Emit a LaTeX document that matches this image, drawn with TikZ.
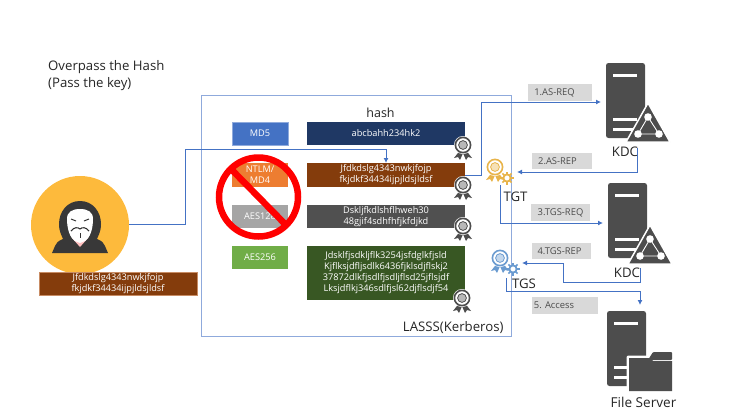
\documentclass[tikz,border=0pt]{standalone}
\usepackage{fontspec}
\setmainfont{Open Sans}
\usetikzlibrary{arrows.meta}
\definecolor{conn}{HTML}{4472C4}
\definecolor{frame}{HTML}{8FAADC}
\definecolor{srv}{HTML}{4D4D4D}
\definecolor{lbl}{HTML}{D9D9D9}
\definecolor{gold}{HTML}{E8B44A}
\definecolor{steel}{HTML}{6A9BD0}
\tikzset{
  x=1pt,y=-1pt,
  barbox/.style={anchor=north west,inner sep=0pt,outer sep=0pt,text=white,align=center,
     font=\fontsize{9.2}{11}\selectfont,line width=.5pt},
  tagbox/.style={anchor=north west,inner sep=0pt,outer sep=0pt,fill=lbl,text=black!70,
     font=\fontsize{9.4}{11}\selectfont},
  captxt/.style={inner sep=0pt,outer sep=0pt,text=black!85,font=\fontsize{13.2}{15}\selectfont},
  linkline/.style={draw=conn,line width=.95pt,-{Latex[length=5pt,width=5pt]}},
}
\newcommand{\ribbon}[3]{%
  \fill[#3] (#1-2,#2+4) -- (#1-9,#2+13) -- (#1-5,#2+12) -- (#1-3,#2+15) -- (#1+1,#2+6) -- cycle;
  \fill[#3] (#1+2,#2+4) -- (#1+9,#2+13) -- (#1+5,#2+12) -- (#1+3,#2+15) -- (#1-1,#2+6) -- cycle;
  \fill[white] (#1,#2) circle (9);
  \draw[#3,line width=1.6pt] (#1,#2) circle (7.6);
  \draw[#3,line width=.8pt,fill=#3!40] (#1,#2) circle (4.4);
}
\newcommand{\gear}[3]{%
  \foreach \a in {0,45,...,315}{\draw[#3,line width=1.6pt] (#1,#2) ++(\a:3.5) -- ++(\a:3);}
  \draw[#3,line width=1.8pt,fill=white] (#1,#2) circle (3.6);
}
\newcommand{\server}[2]{%
  \fill[srv,rounded corners=2.5pt] (#1,#2) rectangle ++(39,75);
  \fill[white] (#1+7,#2+11) rectangle ++(24,3);
  \fill[white] (#1+7,#2+55) rectangle ++(24,3);
  \fill[white] (#1+7,#2+65) rectangle ++(24,3);
}
\newcommand{\triad}[2]{%
  \fill[srv,draw=white,line width=1.5pt,line join=round] (#1,#2) -- (#1+22,#2+39) -- (#1-22,#2+39) -- cycle;
  \draw[white,line width=.9pt] (#1,#2+14) -- (#1+11,#2+31) -- (#1-10,#2+31) -- cycle;
  \fill[white] (#1,#2+14) circle (3.8) (#1+11,#2+31) circle (3.8) (#1-10,#2+31) circle (3.8);
}
\begin{document}
\begin{tikzpicture}
\useasboundingbox (0,0) rectangle (743,418);
% title
\node[anchor=north west,inner sep=0pt,align=left,text=black!85,font=\fontsize{13.2}{17}\selectfont] (title) at (48,60.5) {Overpass the Hash\\(Pass the key)};
% frame
\node[anchor=north west,draw=frame,line width=.9pt,minimum width=310pt,minimum height=240.5pt,inner sep=0pt] (lsass) at (201,95) {};
\node[captxt,anchor=east] (lsasstxt) at (503.5,328) {LASSS(Kerberos)};
\node[captxt,font=\fontsize{12.5}{14}\selectfont] (hash) at (380.5,113) {hash};
% algorithm boxes
\node[barbox,fill=conn,draw=frame,minimum width=56pt,minimum height=23pt] (md5) at (232,122) {MD5};
\node[barbox,fill={rgb,255:red,237;green,125;blue,49},minimum width=56pt,minimum height=24pt] (ntlm) at (232,163) {NTLM/\\MD4};
\node[barbox,fill={rgb,255:red,165;green,165;blue,165},minimum width=56pt,minimum height=23pt] (aes128) at (232,205) {AES128};
\node[barbox,fill={rgb,255:red,112;green,173;blue,71},minimum width=56pt,minimum height=23pt] (aes256) at (232,246) {AES256};
% hash bars
\node[barbox,fill={rgb,255:red,31;green,56;blue,100},minimum width=158pt,minimum height=23pt] (h1) at (307,122) {abcbahh234hk2};
\node[barbox,fill={rgb,255:red,132;green,60;blue,12},minimum width=158pt,minimum height=24pt] (h2) at (307,163) {Jfdkdslg4343nwkjfojp\\fkjdkf34434ijpjldsjldsf};
\node[barbox,fill={rgb,255:red,80;green,80;blue,80},minimum width=158pt,minimum height=23pt] (h3) at (307,205) {Dskljfkdlshflhweh30\\48gjif4sdhfhfjkfdjkd};
\node[barbox,fill={rgb,255:red,56;green,87;blue,35},minimum width=158pt,minimum height=54pt] (h4) at (307,246) {Jdsklfjsdkljflk3254jsfdglkfjsld\\Kjflksjdfljsdlk6436fjklsdjflskj2\\37872dlkfjsdlfjsdljflsd25jflsjdf\\Lksjdflkj346sdlfjsl62djflsdjf54};
% ribbons
\ribbon{463}{145}{srv}
\ribbon{463}{185}{srv}
\ribbon{463}{226}{srv}
\ribbon{462}{298}{srv}
% prohibition sign
\draw[red,line width=6.5pt] (258.5,197) circle (39.5);
\draw[red,line width=6.5pt] (231,169) -- (286,225);
% attacker
\node[circle,fill={rgb,255:red,253;green,186;blue,60},minimum size=98pt,inner sep=0pt,outer sep=0pt] (hacker) at (80,225) {};
\fill[black!78] (80,201) .. controls (93,201) and (101,212) .. (101,224) .. controls (101,232) and (98,236) .. (97,239) .. controls (102,241) and (104,243) .. (105,246) -- (108,253) -- (52,253) -- (55,246) .. controls (56,243) and (58,241) .. (63,239) .. controls (62,236) and (59,232) .. (59,224) .. controls (59,212) and (67,201) .. (80,201) -- cycle;
\fill[red!25!white] (72,238) -- (88,238) -- (80,247) -- cycle;
\fill[white] (80,209) .. controls (88,209) and (93,212) .. (93,219) .. controls (93,229) and (90,238) .. (85,241) -- (80,243) -- (75,241) .. controls (70,238) and (67,229) .. (67,219) .. controls (67,212) and (72,209) .. (80,209) -- cycle;
\draw[black!80,line width=1pt] (71,219) -- (76,221) (89,219) -- (84,221);
\draw[black!80,line width=1.1pt] (71,231) .. controls (74,227) and (78,227) .. (80,229) .. controls (82,227) and (86,227) .. (89,231);
\draw[black!80,line width=.9pt] (80,233) -- (80,238);
\node[barbox,fill={rgb,255:red,132;green,60;blue,12},draw={rgb,255:red,200;green,140;blue,100},minimum width=158pt,minimum height=23pt] (attackhash) at (39,272) {Jfdkdslg4343nwkjfojp\\fkjdkf34434ijpjldsjldsf};
% servers
\server{606}{63}\triad{648}{103}
\server{608}{183}\triad{650}{225}
\server{607}{311}
\fill[white,rounded corners=2pt] (626.5,355.5) rectangle (674,393);
\fill[srv,rounded corners=1pt] (648,360) -- (653,352) -- (672,352) -- (672,360) -- cycle;
\fill[srv] (629,358) -- (650,358) -- (653,361) -- (672,361) -- (672,391) -- (629,391) -- cycle;
\node[captxt] (kdca) at (625,152) {KDC};
\node[captxt] (kdcb) at (627,273) {KDC};
\node[captxt,font=\fontsize{13.6}{15}\selectfont] (fs) at (643.5,402) {File Server};
% tickets
\ribbon{495}{167}{gold}
\gear{507}{178}{gold}
\node[captxt] (tgt) at (515.5,197) {TGT};
\ribbon{500}{258}{steel}
\gear{513}{269}{steel}
\node[captxt] (tgs) at (524,284) {TGS};
% labels
\node[tagbox,minimum width=64pt,minimum height=17pt] (l1) at (528,84) {\hspace*{-11pt}1.AS-REQ};
\node[tagbox,minimum width=60pt,minimum height=16pt] (l2) at (532,153) {\hspace*{-9pt}2.AS-REP};
\node[tagbox,minimum width=59pt,minimum height=17pt] (l3) at (531,204) {3.TGS-REQ};
\node[tagbox,minimum width=59pt,minimum height=16pt] (l4) at (532,243) {\hspace*{-4pt}4.TGS-REP};
\node[tagbox,minimum width=66pt,minimum height=17pt] (l5) at (532,297) {\hspace*{-22pt}5. Access};
% free ends of the connectors
\coordinate (asreqEnd) at (601,102);
\coordinate (asrepStart) at (637,148);
\coordinate (asrepEnd) at (517,172);
\coordinate (tgtOut) at (500,185);
\coordinate (tgsreqEnd) at (603,223);
\coordinate (tgsrepStart) at (640,268);
\coordinate (tgsrepEnd) at (522,263);
\coordinate (tgsOut) at (506,278);
\coordinate (accessEnd) at (640,305);
\coordinate (hackerOut) at (129,224);
\coordinate (ntlmIn) at (386,163);
\coordinate (h2Out) at (465,175);
% connectors
\draw[linkline] (hackerOut) -- (185,224) -- (185,149) -- (386,149) -- (ntlmIn);
\draw[linkline] (h2Out) -- (481,175) -- (481,102) -- (asreqEnd);
\draw[linkline] (asrepStart) -- (637,172) -- (asrepEnd);
\draw[linkline] (tgtOut) -- (500,223) -- (tgsreqEnd);
\draw[linkline] (tgsrepStart) -- (640,282) -- (563,282) -- (563,263) -- (tgsrepEnd);
\draw[linkline] (tgsOut) -- (506,291) -- (640,291) -- (accessEnd);
\end{tikzpicture}
\end{document}
